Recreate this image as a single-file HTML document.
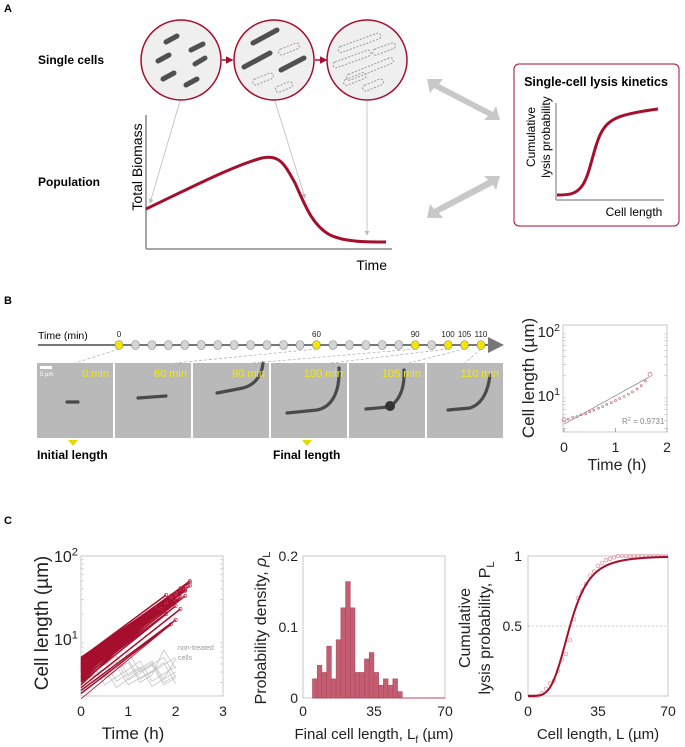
<!DOCTYPE html>
<html><head><meta charset="utf-8"><style>
html,body{margin:0;padding:0;background:#fff}
svg{display:block;font-family:"Liberation Sans",Arial,sans-serif}
</style></head><body>
<svg id="fig" width="685" height="747" viewBox="0 0 685 747" xmlns="http://www.w3.org/2000/svg">
<defs>
<marker id="ga" markerWidth="6" markerHeight="6" refX="5" refY="3" orient="auto"><path d="M0,0 L6,3 L0,6 z" fill="#bbb"/></marker>
<marker id="ra" markerWidth="5" markerHeight="5" refX="4" refY="2.5" orient="auto"><path d="M0,0 L5,2.5 L0,5 z" fill="#a50f2d"/></marker>
<marker id="ta" markerWidth="8" markerHeight="8" refX="6" refY="4" orient="auto"><path d="M0,0 L8,4 L0,8 z" fill="#777"/></marker>
</defs>

<!-- PANEL A -->
<g>
<text x="4" y="12" font-size="11" font-weight="bold">A</text>
<text x="38" y="64" font-size="12" font-weight="bold">Single cells</text>
<text x="38" y="186" font-size="12" font-weight="bold">Population</text>
<g>
<ellipse cx="181" cy="60" rx="40" ry="40" fill="#efefef" stroke="#a50f2d" stroke-width="1.5"/>
<g stroke="#505050" stroke-width="5" stroke-linecap="round">
<line x1="166" y1="42" x2="177" y2="36"/><line x1="191" y1="50" x2="203" y2="44"/>
<line x1="158" y1="61" x2="169" y2="55"/><line x1="195" y1="64" x2="205" y2="58"/>
<line x1="163" y1="79" x2="174" y2="73"/><line x1="186" y1="85" x2="197" y2="79"/></g></g>
<line x1="222" y1="60" x2="232" y2="60" stroke="#a50f2d" stroke-width="1.5" marker-end="url(#ra)"/>
<g>
<ellipse cx="274" cy="60" rx="40" ry="40" fill="#efefef" stroke="#a50f2d" stroke-width="1.5"/>
<g stroke="#505050" stroke-width="5" stroke-linecap="round">
<line x1="253" y1="43" x2="277" y2="30"/><line x1="244" y1="67" x2="270" y2="53"/>
<line x1="281" y1="70" x2="304" y2="58"/></g>
<g stroke="#999" stroke-width="1" fill="none" stroke-dasharray="2,1.5">
<rect x="278" y="46" width="22" height="6" rx="3" transform="rotate(-22 289 49)"/>
<rect x="252" y="76" width="22" height="6" rx="3" transform="rotate(-22 263 79)"/>
<rect x="275" y="84" width="18" height="6" rx="3" transform="rotate(-22 284 87)"/></g></g>
<line x1="315" y1="60" x2="326" y2="60" stroke="#a50f2d" stroke-width="1.5" marker-end="url(#ra)"/>
<g>
<ellipse cx="367" cy="60" rx="40" ry="40" fill="#efefef" stroke="#a50f2d" stroke-width="1.5"/>
<g stroke="#999" stroke-width="1" fill="none" stroke-dasharray="2,1.5">
<rect x="337" y="40" width="45" height="6" rx="3" transform="rotate(-20 359 43)"/>
<rect x="332" y="56" width="40" height="6" rx="3" transform="rotate(-20 352 59)"/>
<rect x="372" y="46" width="24" height="6" rx="3" transform="rotate(-20 384 49)"/>
<rect x="345" y="66" width="50" height="6" rx="3" transform="rotate(-22 370 69)"/>
<rect x="343" y="76" width="24" height="6" rx="3" transform="rotate(-22 355 79)"/>
<rect x="362" y="82" width="22" height="6" rx="3" transform="rotate(-22 373 85)"/></g></g>
<g stroke="#bbb" stroke-width="0.8">
<line x1="180" y1="101" x2="150" y2="203" marker-end="url(#ga)"/>
<line x1="275" y1="101" x2="305" y2="198" marker-end="url(#ga)"/>
<line x1="367" y1="101" x2="367" y2="235" marker-end="url(#ga)"/></g>
<g>
<line x1="146" y1="115" x2="146" y2="249" stroke="#888" stroke-width="1.5"/>
<line x1="146" y1="249" x2="392" y2="249" stroke="#888" stroke-width="1.5"/></g>
<text x="0" y="0" transform="translate(142,167) rotate(-90)" font-size="14" text-anchor="middle">Total Biomass</text>
<text x="387" y="270" font-size="14" text-anchor="end">Time</text>
<path d="M146,209 C190,188 235,165 262,158 C280,154 285,165 295,183 C305,205 312,225 330,235 C345,242 365,242 386,242" fill="none" stroke="#a50f2d" stroke-width="3"/>
<g fill="#c8c8c8">
<path d="M427,79 L443,79 L439,84 L493,112 L496,106 L500,120 L484,120 L488,116 L434,88 L430,93 z"/></g>
<g fill="#c8c8c8">
<path d="M427,218 L443,218 L439,213 L493,185 L496,190 L500,176 L484,176 L488,180 L434,209 L430,204 z"/></g>
<g>
<rect x="514" y="64" width="165" height="162" rx="5" fill="#fff" stroke="#a50f2d" stroke-width="1"/>
<text x="596" y="86" font-size="12.5" font-weight="bold" text-anchor="middle">Single-cell lysis kinetics</text>
<line x1="556" y1="103" x2="556" y2="200" stroke="#888" stroke-width="1.2"/>
<line x1="556" y1="200" x2="664" y2="200" stroke="#888" stroke-width="1.2"/>
<text transform="translate(535,137) rotate(-90)" font-size="12" text-anchor="middle">Cumulative</text>
<text transform="translate(550,137) rotate(-90)" font-size="12" text-anchor="middle">lysis probability</text>
<text x="634" y="216" font-size="12" text-anchor="middle">Cell length</text>
<path d="M557,195 C570,195 576,194 582,186 C590,175 593,150 600,135 C608,118 620,114 658,109" fill="none" stroke="#a50f2d" stroke-width="3"/>
</g>
</g>

<!-- PANEL B -->
<g>
<text x="4" y="304" font-size="11" font-weight="bold">B</text>
<text x="38" y="339" font-size="10.5">Time (min)</text>
<line x1="38" y1="345" x2="500" y2="345" stroke="#777" stroke-width="2" marker-end="url(#ta)"/>
<g id="timeline"></g>
<g id="frames"></g>
<path d="M68,440 L78,440 L73,446 z" fill="#e8d800"/>
<path d="M302,440 L312,440 L307,446 z" fill="#e8d800"/>
<text x="37" y="459" font-size="12" font-weight="bold">Initial length</text>
<text x="273" y="459" font-size="12" font-weight="bold">Final length</text>
<g id="plotB"></g>
</g>

<!-- PANEL C -->
<g>
<text x="4" y="524" font-size="11" font-weight="bold">C</text>
<g id="plotC1"></g>
<g id="plotC2"></g>
<g id="plotC3"></g>
</g>
</svg>
<script>
// ---------- data ----------
const timelineMinutes = [0,5,10,15,20,25,30,35,40,45,50,55,60,65,70,75,80,85,90,95,100,105,110];
const highlightedMinutes = [0,60,90,100,105,110];
const bTimes = [0,0.08,0.17,0.25,0.33,0.42,0.5,0.58,0.67,0.75,0.83,0.92,1.0,1.08,1.17,1.25,1.33,1.42,1.5,1.58,1.67];
const bLengths = [4.1,4.2,4.5,4.6,4.9,5.1,5.5,5.8,6.2,6.6,7.1,7.6,8.2,8.8,9.5,10.3,11.2,12.4,14.0,16.5,21];
const bFit = [3.5,19.0];
const bFitTimes = [0,1.65];
const trajStart = [2.2,2.6,3.0,3.3,3.5,3.8,4.0,4.2,4.4,4.5,4.7,4.8,5.0,5.1,5.3,5.5,5.6,5.8,6.0,3.1,3.6,4.1,4.6,5.2,2.8,3.9,4.3,4.9,5.4,3.4,2.4,4.4,5.7,3.7,4.0,4.8,5.0,3.2,4.6,5.9];
const trajEndTime = [1.9,2.1,1.8,2.0,2.2,1.7,1.9,2.1,2.3,1.8,2.0,2.2,1.6,1.9,2.1,2.0,2.3,1.8,1.9,2.2,2.0,1.7,2.1,1.9,2.0,1.8,2.2,2.0,2.3,1.7,2.0,1.9,2.1,2.2,1.8,1.6,2.0,2.1,1.9,1.8];
const trajEndLen = [15,23,20,25,33,22,27,32,44,26,30,38,20,31,36,35,48,30,33,40,29,24,37,31,34,27,42,35,50,23,17,33,41,39,28,24,36,31,32,34];
const ntTimes = [0,0.25,0.5,0.75,1.0,1.25,1.5,1.75,2.0];
const ntSeries = [
 [3.0,3.6,4.4,2.6,3.3,4.2,5.1,3.0,3.6],
 [4.2,5.0,2.8,3.5,4.3,5.4,3.1,3.8,4.7],
 [2.5,3.1,3.8,4.7,2.8,3.4,4.1,5.2,2.9],
 [5.0,3.0,3.7,4.5,5.6,3.3,4.0,4.9,6.0],
 [3.6,4.4,5.3,3.1,3.8,4.6,2.7,3.3,4.0],
 [4.8,5.8,3.4,4.2,7.0,4.0,4.9,6.0,3.5],
 [2.3,2.9,3.5,4.3,5.2,3.0,3.7,7.4,4.4],
 [6.0,3.5,4.3,5.3,3.2,3.9,4.8,2.8,3.4],
 [3.3,4.0,4.9,6.2,3.6,4.4,5.4,3.3,5.7]];
const histStart = 4.67;
const histWidth = 2.33;
const histValues = [0.027,0.046,0.036,0.073,0.027,0.082,0.127,0.164,0.127,0.036,0.036,0.055,0.064,0.036,0.018,0.027,0.018,0.027,0.009];
const cdfLengths = [1,3,5,7,9,11,13,15,17,19,21,23,25,27,29,31,33,35,37,39,41,43,45,47,49,51,53,55,57,59,61,63,65,67,69];
const cdfValues = [0,0,0,0.02,0.05,0.09,0.11,0.18,0.26,0.30,0.40,0.55,0.70,0.75,0.80,0.86,0.89,0.93,0.95,0.97,0.98,0.99,1,1,1,1,1,1,1,1,1,1,1,1,1];
const fitHalf = 21;
const fitHill = 4.2;
const xTicksC1 = ["0","1","2","3"];
const xTicksC23 = ["0","35","70"];
const yTicksC2 = ["0","0.1","0.2"];
const yTicksC3 = ["0","0.5","1"];

const NS="http://www.w3.org/2000/svg";
function mk(parent,tag,attrs){const e=document.createElementNS(NS,tag);for(const k in attrs)e.setAttribute(k,attrs[k]);parent.appendChild(e);return e;}
function txt(parent,x,y,s,size,anchor,fill){const t=mk(parent,'text',{x:x,y:y,'font-size':size,'text-anchor':anchor||'start',fill:fill||'#222'});t.textContent=s;return t;}
const RED="#a50f2d";

// ---------- timeline ----------
const tl=document.getElementById('timeline');
const tx=m=>119+(m/110)*362;
timelineMinutes.forEach(m=>{
 const hl=highlightedMinutes.includes(m);
 const c=mk(tl,'ellipse',{cx:tx(m),cy:345,rx:4,ry:4.5,fill:hl?'#f2e600':'#d4d4d4',stroke:'#888','stroke-width':0.6});
 
 
 if(hl){const t=txt(tl,tx(m),337,String(m),8,'middle');
 
 }
});
// frames
const fr=document.getElementById('frames');
const frameX=[37,115,193,271,349,427];
const frameCells=[
 "M67,402 L78,402",
 "M138,398 L166,396",
 "M217,393 L243,388 C255,385 262,375 263,363",
 "M287,413 L317,410 C332,407 340,392 339,368",
 "M366,409 L388,407 C398,403 405,390 404,370",
 "M448,410 L470,408 C482,404 488,392 490,375"];
frameX.forEach((x,i)=>{
 const r=mk(fr,'rect',{x:x,y:363,width:76,height:75,fill:'#b9b9b9'});
 
 
 mk(fr,'path',{d:frameCells[i],fill:'none',stroke:'#4a4a4a','stroke-width':3.2,'stroke-linecap':'round'});
 mk(fr,'line',{x1:tx(highlightedMinutes[i]),y1:349,x2:x+(i==0?38:i==5?38:60),y2:363,stroke:'#aaa','stroke-width':0.7,'stroke-dasharray':'3,2'});
 const t=txt(fr,x+72,377,highlightedMinutes[i]+" min",11,'end','#f5ea00');
 
 
});
mk(fr,'ellipse',{cx:390,cy:406,rx:5,ry:5,fill:'#333'});
mk(fr,'rect',{x:40,y:366,width:12,height:3,fill:'#fff'});
txt(fr,40,376,"5 µm",6,'start','#fff');

function axesBox(g,x0,y0,x1,y1){mk(g,'rect',{x:x0,y:y0,width:x1-x0,height:y1-y0,fill:'none',stroke:'#bbb','stroke-width':0.8});}
function sup(g,x,y,base,exp,size){const t=mk(g,'text',{x:x,y:y,'font-size':size,'text-anchor':'end',fill:'#222'});t.textContent=base;const s=mk(t,'tspan',{dy:-size*0.4,'font-size':size*0.7});s.textContent=exp;return t;}

// ---------- Plot B ----------
(function(){
 const g=document.getElementById('plotB');
 const X=t=>564+t*51.5, Y=v=>395-(Math.log10(v)-1)*64;
 axesBox(g,563,325,667,432);
 [2,3,4,5,6,7,8,9,20,30,40,50,60,70,80,90].forEach(v=>{if(Y(v)>325&&Y(v)<432){mk(g,'line',{x1:563,y1:Y(v),x2:566,y2:Y(v),stroke:'#bbb','stroke-width':0.6});mk(g,'line',{x1:664,y1:Y(v),x2:667,y2:Y(v),stroke:'#bbb','stroke-width':0.6});}});
 [0,1,2].forEach(t=>{mk(g,'line',{x1:X(t),y1:432,x2:X(t),y2:428,stroke:'#999','stroke-width':0.8});const l=txt(g,X(t),452,String(t),14,'middle');
 });
 sup(g,560,337,"10","2",15);sup(g,560,401,"10","1",15);
 const fl=mk(g,'line',{x1:X(bFitTimes[0]),y1:Y(bFit[0]),x2:X(bFitTimes[1]),y2:Y(bFit[1]),stroke:'#888','stroke-width':0.8});
 
 
 bTimes.forEach((t,i)=>{const c=mk(g,'circle',{cx:X(t),cy:Y(bLengths[i]),r:i==0||i==bTimes.length-1?2:1,fill:'none',stroke:'#c86a7c','stroke-width':0.7});
 
 });
 const rt=mk(g,'text',{x:622,y:424,'font-size':8,fill:'#888'});rt.textContent="R";const rs=mk(rt,'tspan',{dy:-3,'font-size':5.5});rs.textContent="2";const rr=mk(rt,'tspan',{dy:3});rr.textContent=" = 0.9731";
 
 
 const yl=mk(g,'text',{transform:'translate(534,378) rotate(-90)','font-size':17,'text-anchor':'middle',fill:'#222'});yl.textContent="Cell length (µm)";
 
 
 const xl=txt(g,617,470,"Time (h)",16,'middle');
 
 
})();

// ---------- Plot C1 ----------
(function(){
 const g=document.getElementById('plotC1');
 const X=t=>81+t*(142/3), Y=v=>639-(Math.log10(v)-1)*83;
 axesBox(g,81,556,223,696);
 [2,3,4,5,6,7,8,9,20,30,40,50,60,70,80,90].forEach(v=>{if(Y(v)>556&&Y(v)<696){mk(g,'line',{x1:81,y1:Y(v),x2:84,y2:Y(v),stroke:'#bbb','stroke-width':0.6});mk(g,'line',{x1:220,y1:Y(v),x2:223,y2:Y(v),stroke:'#bbb','stroke-width':0.6});}});
 ntSeries.forEach(s=>{const p=mk(g,'polyline',{points:s.map((v,i)=>X(ntTimes[i])+','+Y(v)).join(' '),fill:'none',stroke:'#c4c4c4','stroke-width':0.8});
 
 });
 trajStart.forEach((v,i)=>{
  const te=trajEndTime[i], le=trajEndLen[i];
  const l=mk(g,'line',{x1:X(0),y1:Y(v),x2:X(te),y2:Y(le),stroke:RED,'stroke-width':1.5});
  
  
  const c=mk(g,'circle',{cx:X(te),cy:Y(le),r:1.6,fill:'none',stroke:'#c23a55','stroke-width':0.7});
  
  
 });
 mk(g,'line',{x1:X(0),y1:Y(1.9),x2:X(1.9),y2:Y(15),stroke:RED,'stroke-width':0.8});
 txt(g,178,650,"non-treated",7,'start','#999');txt(g,178,660,"cells",7,'start','#999');
 xTicksC1.forEach((s,i)=>{const t=txt(g,X(i),716,s,14,'middle');
 });
 sup(g,78,562,"10","2",16);sup(g,78,645,"10","1",16);
 const yl=mk(g,'text',{transform:'translate(48,623) rotate(-90)','font-size':19,'text-anchor':'middle',fill:'#222'});yl.textContent="Cell length (µm)";
 
 
 const xl=txt(g,133,739,"Time (h)",17,'middle');
 
 
})();

// ---------- Plot C2 ----------
(function(){
 const g=document.getElementById('plotC2');
 const X=L=>303+L*(142/70), Y=v=>698-v*710;
 axesBox(g,303,556,445,698);
 histValues.forEach((v,i)=>{const x0=X(histStart+i*histWidth),x1=X(histStart+(i+1)*histWidth);
  const b=mk(g,'rect',{x:x0,y:Y(v),width:x1-x0,height:698-Y(v),fill:'#c45d72',stroke:'#a84559','stroke-width':0.5});
  
  });
 mk(g,'line',{x1:X(histStart),y1:698,x2:445,y2:698,stroke:'#b34a60','stroke-width':1});
 xTicksC23.forEach((s,i)=>{const t=txt(g,X(i*35),716,s,14,'middle');
 });
 yTicksC2.forEach((s,i)=>{const t=txt(g,298,Y(i*0.1)+5,s,14,'end');
 });
 const yl=mk(g,'text',{transform:'translate(266,628) rotate(-90)','font-size':16,'text-anchor':'middle',fill:'#222'});yl.textContent="Probability density, ";const ys=mk(yl,'tspan',{'font-style':'italic'});ys.textContent="ρ";const ysb=mk(yl,'tspan',{'font-size':11,dy:4});ysb.textContent="L";
 
 
 const xl=mk(g,'text',{x:374,y:739,'font-size':15,'text-anchor':'middle',fill:'#222'});xl.textContent="Final cell length, L";const xs=mk(xl,'tspan',{'font-size':10,dy:4});xs.textContent="f";const xr=mk(xl,'tspan',{dy:-4});xr.textContent=" (µm)";
 
 
})();

// ---------- Plot C3 ----------
(function(){
 const g=document.getElementById('plotC3');
 const X=L=>528+L*(140/70), Y=v=>696-v*140;
 axesBox(g,528,556,668,696);
 mk(g,'line',{x1:528,y1:Y(0.5),x2:668,y2:Y(0.5),stroke:'#bbb','stroke-width':0.7,'stroke-dasharray':'2,2'});
 cdfLengths.forEach((L,i)=>{const c=mk(g,'circle',{cx:X(L),cy:Y(cdfValues[i]),r:1.8,fill:'none',stroke:'#d88a9a','stroke-width':0.7});
 
 });
 let pts=[];for(let L=0;L<=70;L+=0.5){const p=Math.pow(L,fitHill)/(Math.pow(L,fitHill)+Math.pow(fitHalf,fitHill));pts.push(X(L)+','+Y(p));}
 const fc=mk(g,'polyline',{points:pts.join(' '),fill:'none',stroke:RED,'stroke-width':2});
 
 
 xTicksC23.forEach((s,i)=>{const t=txt(g,X(i*35),716,s,14,'middle');
 });
 yTicksC3.forEach((s,i)=>{const t=txt(g,522,Y(i*0.5)+5,s,14,'end');
 });
 const y1=mk(g,'text',{transform:'translate(470,628) rotate(-90)','font-size':16,'text-anchor':'middle',fill:'#222'});y1.textContent="Cumulative";
 
 
 const y2=mk(g,'text',{transform:'translate(490,628) rotate(-90)','font-size':16,'text-anchor':'middle',fill:'#222'});y2.textContent="lysis probability, P";const ys=mk(y2,'tspan',{'font-size':11,dy:4});ys.textContent="L";
 
 
 const xl=txt(g,598,739,"Cell length, L (µm)",15,'middle');
 
 
})();
</script>
</body></html>
